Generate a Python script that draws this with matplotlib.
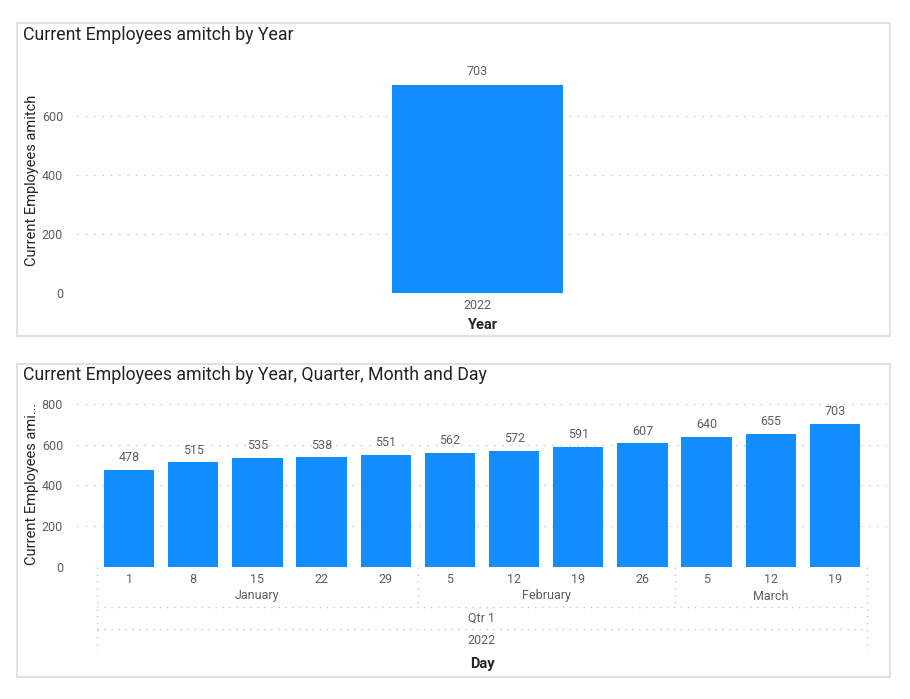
import matplotlib
matplotlib.use("Agg")
import matplotlib.pyplot as plt
from matplotlib.patches import Rectangle
from matplotlib.transforms import blended_transform_factory
from matplotlib.lines import Line2D

# ---------------- data ----------------
year_categories = ["2022"]
year_values = [703]

day_labels = ["1", "8", "15", "22", "29", "5", "12", "19", "26", "5", "12", "19"]
day_values = [478, 515, 535, 538, 551, 562, 572, 591, 607, 640, 655, 703]
months = ["January", "February", "March"]
month_counts = [5, 4, 3]
quarter_label = "Qtr 1"
year_label = "2022"

top_title = "Current Employees amitch by Year"
bottom_title = "Current Employees amitch by Year, Quarter, Month and Day"
top_ylabel = "Current Employees amitch"
bottom_ylabel = "Current Employees ami..."

# ---------------- style ----------------
W, H = 910, 699
BAR = "#118DFF"
TICK = "#605E5C"
TITLE = "#252423"
GRID = "#C8C6C4"
BORDER = "#E1E1E1"
FONT = ["Roboto", "DejaVu Sans"]
plt.rcParams["font.family"] = FONT

fig = plt.figure(figsize=(W / 100, H / 100), dpi=100)
fig.patch.set_facecolor("white")


def rect(x0, y0, x1, y1):
    return [x0 / W, 1 - y1 / H, (x1 - x0) / W, (y1 - y0) / H]


def fy(py):
    return 1 - py / H


def fx(px):
    return px / W


# panel borders
for (x0, y0, x1, y1) in [(17, 23, 890, 336), (17, 364, 890, 677)]:
    fig.add_artist(Rectangle((fx(x0), fy(y1)), (x1 - x0) / W, (y1 - y0) / H,
                             transform=fig.transFigure, fill=False,
                             edgecolor=BORDER, linewidth=1.5))

fig.text(fx(23), fy(35), top_title, fontsize=12.8, color=TITLE, va="center", ha="left")
fig.text(fx(23), fy(375), bottom_title, fontsize=12.8, color=TITLE, va="center", ha="left")


def style_axes(ax, yticks):
    for s in ax.spines.values():
        s.set_visible(False)
    ax.set_yticks(yticks)
    ax.tick_params(axis="y", length=0, colors=TICK, labelsize=9, pad=10)
    ax.tick_params(axis="x", length=0, colors=TICK, labelsize=9)
    ax.yaxis.grid(True, color=GRID, linestyle=(0, (1, 5)), linewidth=1)
    ax.set_axisbelow(True)
    ax.set_facecolor("none")


# ---------------- top chart ----------------
ax1 = fig.add_axes(rect(77, 62, 887, 292.5))
scale_top = (292.5 - 115.5) / 600
ax1.set_ylim(0, (292.5 - 62) / scale_top)
ax1.set_xlim(-0.4944, 0.5056)
style_axes(ax1, [0, 200, 400, 600])
ax1.bar(range(len(year_categories)), year_values, width=0.2111, color=BAR)
ax1.set_xticks(range(len(year_categories)))
ax1.set_xticklabels(year_categories)
ax1.tick_params(axis="x", pad=5)
for i, v in enumerate(year_values):
    ax1.annotate(str(v), (i, v), xytext=(0, 5), textcoords="offset points",
                 ha="center", va="bottom", fontsize=9, color=TICK)
fig.text(fx(32), fy(180), top_ylabel, fontsize=10.5, color=TITLE, rotation=90,
         ha="center", va="center")
fig.text(fx(482), fy(325), "Year", fontsize=10.5, fontweight="bold", color=TITLE,
         ha="center", va="center")

# ---------------- bottom chart ----------------
ax2 = fig.add_axes(rect(77, 398, 887, 566.5))
scale_bot = (566.5 - 404.3) / 800
ax2.set_ylim(0, (566.5 - 398) / scale_bot)
n = len(day_values)
pitch = (868 - 97) / n
pad = (97 - 77) / pitch
ax2.set_xlim(-0.5 - pad, n - 0.5 + pad)
style_axes(ax2, [0, 200, 400, 600, 800])
xs = list(range(n))
ax2.bar(xs, day_values, width=0.785, color=BAR)
ax2.set_xticks(xs)
ax2.set_xticklabels(day_labels)
ax2.tick_params(axis="x", pad=5)
for i, v in zip(xs, day_values):
    ax2.annotate(str(v), (i, v), xytext=(0, 4), textcoords="offset points",
                 ha="center", va="bottom", fontsize=9, color=TICK)
fig.text(fx(32), fy(484), bottom_ylabel, fontsize=10.5, color=TITLE, rotation=90,
         ha="center", va="center")

# hierarchical axis
tr = blended_transform_factory(ax2.transData, fig.transFigure)
dot = dict(color=GRID, linestyle=(0, (1, 4)), linewidth=1, transform=tr, clip_on=False)
left, right = -0.5, n - 0.5
start = -0.5
boundaries = []
for m, c in zip(months, month_counts):
    center = start + c / 2
    fig.text(center, fy(596), m, fontsize=9, color=TICK, ha="center", va="center",
             transform=tr)
    start += c
    boundaries.append(start)
for b in boundaries[:-1]:
    fig.add_artist(Line2D([b, b], [fy(566.5), fy(607)], **dot))
for b in (left, right):
    fig.add_artist(Line2D([b, b], [fy(566.5), fy(651)], **dot))
for yy in (607, 629):
    fig.add_artist(Line2D([left, right], [fy(yy), fy(yy)], **dot))
mid = (left + right) / 2
fig.text(mid, fy(618), quarter_label, fontsize=9, color=TICK, ha="center", va="center", transform=tr)
fig.text(mid, fy(640), year_label, fontsize=9, color=TICK, ha="center", va="center", transform=tr)
fig.text(mid, fy(664), "Day", fontsize=10.5, fontweight="bold", color=TITLE,
         ha="center", va="center", transform=tr)

fig.savefig("out.png", dpi=100, facecolor="white")
